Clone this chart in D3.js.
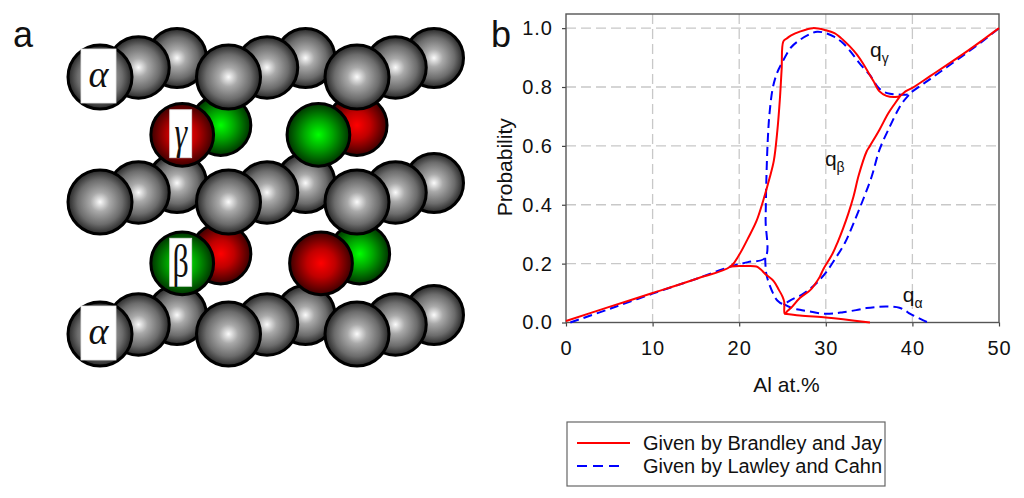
<!DOCTYPE html>
<html>
<head>
<meta charset="utf-8">
<script src="https://cdn.jsdelivr.net/npm/d3@7"></script>
<style>
  body { margin: 0; background: #fff; }
  svg { display: block; font-family: "Liberation Sans", Arial, sans-serif; }
</style>
</head>
<body>
<div id="chart"></div>
<script>
// ---- panel a: layered lattice (lattice coordinates, not pixels) ----
const layerLevels = [0, 1, 2];
const latticeCols = [0, 1, 2];
const latticeDepths = [0, 1, 2];
// atoms sitting in the gaps between layers
const gapAtoms = [
  { col: 0.49, depth: 0.5, level: 0.5, kind: 'red', label: 'γ' },
  { col: 0.49, depth: 1.5, level: 0.5, kind: 'green' },
  { col: 1.55, depth: 0.5, level: 0.5, kind: 'green' },
  { col: 1.55, depth: 1.5, level: 0.5, kind: 'red' },
  { col: 0.49, depth: 0.5, level: 1.5, kind: 'green', label: 'β' },
  { col: 0.49, depth: 1.5, level: 1.5, kind: 'red' },
  { col: 1.57, depth: 0.5, level: 1.5, kind: 'red' },
  { col: 1.57, depth: 1.5, level: 1.5, kind: 'green' }
];
const layerLabels = [
  { col: 0, depth: 0, level: 0, label: 'α' },
  { col: 0, depth: 0, level: 2, label: 'α' }
];

// ---- panel b: probabilities vs Al at.% ----
const xTicks = [0, 10, 20, 30, 40, 50];
const yTicks = [0, 0.2, 0.4, 0.6, 0.8, 1.0];

const brandleyGamma = [[0,0.005],[5,0.053],[10,0.1],[15,0.148],[19,0.19],[20,0.23],[21,0.285],[22,0.345],
  [22.8,0.417],[23.5,0.49],[24,0.55],[24.4,0.65],[24.7,0.76],[24.9,0.86],[25.1,0.955],[25.5,0.965],[26,0.975],
  [27,0.988],[28.5,1.0],[30,0.993],[31,0.983],[32,0.96],[32.8,0.937],[33.6,0.91],[34.3,0.88],[35,0.845],
  [35.5,0.82],[36.2,0.785],[37,0.77],[38,0.766],[38.6,0.77],[39.2,0.785],[40,0.797],[42,0.836],[44,0.875],
  [46,0.915],[48,0.957],[50,1.0]];
const brandleyBeta = [[19,0.19],[20,0.192],[21,0.192],[22,0.19],[22.5,0.18],[23,0.165],[24,0.14],[24.6,0.11],
  [25,0.088],[25.2,0.07],[25.25,0.03],[25.6,0.04],[26,0.05],[27,0.083],[28.2,0.11],[28.7,0.128],[29.3,0.155],
  [29.7,0.18],[30.8,0.235],[31.4,0.275],[32,0.32],[32.6,0.37],[33.2,0.428],[33.8,0.5],[34.7,0.58],[35.1,0.6],
  [36.2,0.655],[37.2,0.71],[38,0.745],[38.6,0.77]];
const brandleyAlpha = [[25.25,0.03],[27,0.024],[30,0.017],[32,0.011],[35.1,0]];

const lawleyGamma = [[0.5,0],[5,0.046],[10,0.098],[15,0.148],[19,0.19],[21,0.205],[23,0.22],[23.05,0.35],
  [23.15,0.5],[23.3,0.62],[23.5,0.71],[23.9,0.8],[24.4,0.85],[24.9,0.88],[26,0.935],[27,0.96],[28.2,0.98],
  [29,0.988],[30,0.983],[31,0.97],[32,0.949],[33,0.915],[33.9,0.88],[35.1,0.84],[36,0.8],[36.6,0.785],
  [37.4,0.777],[38,0.775],[39.5,0.775],[40,0.785],[42,0.826],[44,0.868],[46,0.91],[48,0.953],[50,1.0]];
const lawleyBeta = [[23,0.22],[23.1,0.17],[23.3,0.145],[23.9,0.1],[24.4,0.075],[25.1,0.063],[26,0.077],
  [27.2,0.094],[28,0.11],[29.1,0.139],[30.1,0.173],[31,0.213],[32.2,0.27],[33.2,0.337],[34.3,0.417],
  [35.3,0.496],[36.2,0.587],[37.4,0.666],[38.3,0.72],[38.8,0.745],[39.5,0.77],[40,0.785]];
const lawleyAlpha = [[25.1,0.063],[26,0.05],[27,0.043],[28,0.038],[29.7,0.03],[31,0.031],[32,0.035],
  [33.5,0.042],[34.7,0.049],[36,0.053],[37.2,0.054],[38.5,0.05],[39.2,0.04],[39.7,0.03],[40.5,0.018],
  [41.2,0.008],[41.8,0]];

const curveLabels = [
  { sub: 'γ', x: 35.1, y: 0.902 },
  { sub: 'β', x: 29.9, y: 0.532 },
  { sub: 'α', x: 38.9, y: 0.07 }
];
const legendNames = ['Given by Brandley and Jay', 'Given by Lawley and Cahn'];

// ---------------------------------------------------------------
const svg = d3.select('#chart')
  .append('svg')
    .attr('width', 1024)
    .attr('height', 498);

svg.append('rect').attr('width', 1024).attr('height', 498).attr('fill', '#fff');

// ---- panel a ----
const defs = svg.append('defs');
const sphereStops = {
  gray: [['0%', '#fbfbfb'], ['30%', '#a9a9a9'], ['70%', '#6c6c6c'], ['100%', '#262626']],
  red: [['0%', '#ff0000'], ['45%', '#c00000'], ['100%', '#3c0000']],
  green: [['0%', '#00ff00'], ['45%', '#00a800'], ['100%', '#003200']]
};
Object.entries(sphereStops).forEach(([k, s]) => {
  const g = defs.append('radialGradient').attr('id', 'ball-' + k);
  s.forEach(([o, c]) => g.append('stop').attr('offset', o).attr('stop-color', c));
});

const colX = d3.scaleLinear().domain([0, 1]).range([100, 228.5]);
const levelY = d3.scaleLinear().domain([0, 1, 2]).range([77, 202, 334]);
const depthDX = d3.scaleLinear().domain([0, 1]).range([0, 38.5]);
const depthDY = d3.scaleLinear().domain([0, 1]).range([0, -9.5]);
const radius = d3.scaleLinear().domain([0, 2]).range([32, 29.5]);
const px = d => colX(d.col) + depthDX(d.depth);
const py = d => levelY(d.level) + depthDY(d.depth);

const atoms = [];
layerLevels.forEach(level => latticeCols.forEach(col => latticeDepths.forEach(depth =>
  atoms.push({ col, depth, level, kind: 'gray' }))));
gapAtoms.forEach(d => atoms.push(d));
// back to front
atoms.sort((a, b) => (b.depth - a.depth) || (py(a) - py(b)));

const panelA = svg.append('g');
panelA.selectAll('circle')
  .data(atoms)
  .enter()
  .append('circle')
    .attr('cx', px)
    .attr('cy', py)
    .attr('r', d => radius(d.depth))
    .attr('fill', d => `url(#ball-${d.kind})`)
    .attr('stroke', '#000')
    .attr('stroke-width', 3);

const boxes = layerLabels.map(d => Object.assign({ w: 35, h: 54, italic: true, size: 38 }, d))
  .concat(gapAtoms.filter(d => d.label).map(d => Object.assign({
    w: 22, h: 48, italic: d.label === 'γ', size: 40
  }, d)));

const lab = panelA.selectAll('g.lab')
  .data(boxes)
  .enter()
  .append('g')
    .attr('class', 'lab')
    .attr('transform', d => `translate(${px(d) - 1.5},${py(d) - 1})`);
lab.append('rect')
  .attr('x', d => -d.w / 2)
  .attr('y', d => -d.h / 2)
  .attr('width', d => d.w)
  .attr('height', d => d.h)
  .attr('fill', '#fff')
  .attr('stroke', '#e4e4e4')
  .attr('stroke-width', 0.8);
lab.append('text')
  .attr('text-anchor', 'middle')
  .attr('dy', d => d.label === 'α' ? '0.3em' : '0.32em')
  .attr('font-family', '"Liberation Serif", "Times New Roman", serif')
  .attr('font-style', d => d.italic ? 'italic' : 'normal')
  .attr('font-size', d => d.size)
  .attr('transform', d => d.label === 'α' ? null : 'scale(0.8,1.15)')
  .attr('fill', '#111')
  .text(d => d.label);

svg.append('text')
  .attr('x', 13)
  .attr('y', 47)
  .attr('font-size', 36)
  .attr('fill', '#111')
  .text('a');

// ---- panel b ----
const margin = { top: 14, left: 566 };
const width = 433;
const height = 308.5;
const x = d3.scaleLinear().domain([0, 50]).range([0, width]);
const y = d3.scaleLinear().domain([0, 1.048]).range([height, 0]);

svg.append('text')
  .attr('x', 491)
  .attr('y', 47)
  .attr('font-size', 36)
  .attr('fill', '#111')
  .text('b');

const plot = svg.append('g')
  .attr('transform', `translate(${margin.left},${margin.top})`);

// dashed grid
plot.append('g')
  .selectAll('line.vx')
  .data(xTicks.filter(t => t > 0 && t < 50))
  .enter()
  .append('line')
    .attr('x1', d => x(d)).attr('x2', d => x(d))
    .attr('y1', 0).attr('y2', height)
    .attr('stroke', '#c8c8c8').attr('stroke-width', 1.3)
    .attr('stroke-dasharray', '10,5');
plot.append('g')
  .selectAll('line.hy')
  .data(yTicks.filter(t => t > 0))
  .enter()
  .append('line')
    .attr('x1', 0).attr('x2', width)
    .attr('y1', d => y(d)).attr('y2', d => y(d))
    .attr('stroke', '#c8c8c8').attr('stroke-width', 1.3)
    .attr('stroke-dasharray', '10,5');

// axes
const xAxis = plot.append('g')
  .attr('transform', `translate(0, ${height})`)
  .call(d3.axisBottom(x).tickValues(xTicks).tickFormat(d3.format('d'))
    .tickSize(4).tickSizeOuter(0).tickPadding(14));
const yAxis = plot.append('g')
  .call(d3.axisLeft(y).tickValues(yTicks).tickFormat(d3.format('.1f'))
    .tickSize(4).tickSizeOuter(0).tickPadding(9));
[xAxis, yAxis].forEach(a => {
  a.select('.domain').remove();
  a.selectAll('line').attr('stroke', '#444').attr('stroke-width', 1.2);
  a.selectAll('text')
    .attr('font-family', '"Liberation Sans", Arial, sans-serif')
    .attr('font-size', 20)
    .attr('letter-spacing', 1)
    .attr('fill', '#111');
});

plot.append('rect')
  .attr('width', width)
  .attr('height', height)
  .attr('fill', 'none')
  .attr('stroke', '#555')
  .attr('stroke-width', 1.4);

plot.append('text')
  .attr('x', width / 2 + 4)
  .attr('y', height + 69)
  .attr('text-anchor', 'middle')
  .attr('font-size', 21)
  .attr('fill', '#111')
  .text('Al at.%');

plot.append('text')
  .attr('transform', 'rotate(-90)')
  .attr('x', -height / 2 + 1)
  .attr('y', -54)
  .attr('text-anchor', 'middle')
  .attr('font-size', 21)
  .attr('fill', '#111')
  .text('Probability');

// curves
const line = d3.line()
  .x(d => x(d[0]))
  .y(d => y(d[1]))
  .curve(d3.curveCatmullRom.alpha(0.5));

const series = [
  { data: lawleyGamma, src: 'L' },
  { data: lawleyBeta, src: 'L' },
  { data: lawleyAlpha, src: 'L' },
  { data: brandleyGamma, src: 'B' },
  { data: brandleyBeta, src: 'B' },
  { data: brandleyAlpha, src: 'B' }
];
plot.selectAll('path.curve')
  .data(series)
  .enter()
  .append('path')
    .attr('class', 'curve')
    .attr('d', d => line(d.data))
    .attr('fill', 'none')
    .attr('stroke', d => d.src === 'B' ? '#ff0000' : '#0000ff')
    .attr('stroke-width', 2)
    .attr('stroke-dasharray', d => d.src === 'B' ? null : '9,5');

// q labels
const ql = plot.selectAll('text.q')
  .data(curveLabels)
  .enter()
  .append('text')
    .attr('class', 'q')
    .attr('x', d => x(d.x))
    .attr('y', d => y(d.y))
    .attr('font-size', 21)
    .attr('fill', '#111');
ql.append('tspan').text('q');
ql.append('tspan')
  .attr('dy', 6)
  .attr('font-size', 14)
  .text(d => d.sub);

// legend
const legend = svg.append('g')
  .attr('transform', 'translate(567,422)');
legend.append('rect')
  .attr('width', 318)
  .attr('height', 64)
  .attr('fill', '#fff')
  .attr('stroke', '#666')
  .attr('stroke-width', 1.2);
const item = legend.selectAll('g.item')
  .data(legendNames)
  .enter()
  .append('g')
    .attr('class', 'item')
    .attr('transform', (d, i) => `translate(0, ${21 + i * 23})`);
item.append('line')
  .attr('x1', 10)
  .attr('x2', (d, i) => i === 0 ? 63 : 58)
  .attr('stroke', (d, i) => i === 0 ? '#ff0000' : '#0000ff')
  .attr('stroke-width', 2)
  .attr('stroke-dasharray', (d, i) => i === 0 ? null : '10,6');
item.append('text')
  .attr('x', 76)
  .attr('dy', '0.35em')
  .attr('font-size', 20)
  .attr('fill', '#111')
  .text(d => d);
</script>
</body>
</html>
